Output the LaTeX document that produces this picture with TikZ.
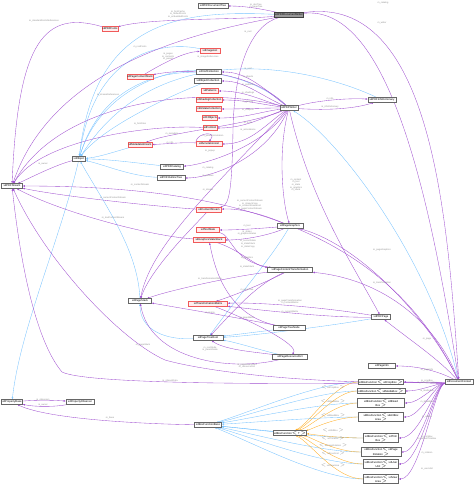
\documentclass[tikz,border=0pt]{standalone}
\usepackage{fontspec}
\setmainfont{Liberation Sans}
\usetikzlibrary{arrows.meta,backgrounds}
\definecolor{usec}{RGB}{160,80,208}
\definecolor{inhc}{RGB}{120,195,255}
\definecolor{tplc}{RGB}{255,175,40}
\definecolor{edgec}{RGB}{102,102,102}
\definecolor{rfill}{RGB}{255,238,238}
\definecolor{rdraw}{RGB}{240,90,90}
\definecolor{lblc}{RGB}{140,140,140}
\tikzset{
 nb/.style={draw=edgec, fill=white, line width=0.3pt, inner xsep=0.5pt, inner ysep=0.4pt, minimum height=4.8pt, font=\fontsize{2.7}{3.0}\selectfont, align=center},
 rb/.style={nb, draw=rdraw, fill=rfill},
 gb/.style={nb, fill={rgb,255:red,153;green,153;blue,153}, draw=black!75},
 lb/.style={font=\fontsize{2.3}{2.6}\selectfont, text=lblc, align=center, inner sep=0pt},
 ue/.style={draw=usec, line width=0.35pt, -{Latex[length=2.2pt,width=1.8pt]}},
 ie/.style={draw=inhc, line width=0.35pt, -{Latex[open,length=2.2pt,width=1.8pt]}},
 te/.style={draw=tplc, line width=0.35pt, -{Latex[open,length=2.2pt,width=1.8pt]}},
}
\begin{document}
\begin{tikzpicture}[x=1pt,y=-1pt]
\useasboundingbox (0,0) rectangle (474,493);
% ---------- nodes ----------
\node[nb, minimum width=30pt] (T) at (213,6) {xdPDFDocumentTree};
\node[gb, minimum width=28pt] (G) at (289,15) {xdPDFDocumentWriter};
\node[rb, minimum width=16pt] (R1) at (110,29) {xdPDFFonts};
\node[rb, minimum width=20pt] (A1) at (210,51) {xdImageList};
\node[rb, minimum width=24pt] (A2) at (140,77) {xdPageContentStack};
\node[nb, minimum width=25pt] (N1) at (209,72) {xdXrefCollection};
\node[nb, minimum width=27pt] (N2) at (208,81) {xdObjectCollection};
\node[rb, minimum width=17pt] (A3) at (210,91) {xdPatterns};
\node[rb, minimum width=25pt] (A4) at (209,100) {xdShadingCollection};
\node[rb, minimum width=25pt] (A5) at (209,109) {xdGStateCollection};
\node[rb, minimum width=14pt] (A6) at (210,118) {xdXObjects};
\node[nb, minimum width=18pt] (H) at (289,108) {xdPDFWriter};
\node[nb, minimum width=28pt] (N3) at (382,100) {xdPDFInfoDictionary};
\node[rb, minimum width=14pt] (A7) at (210,128) {xdFontList};
\node[rb, minimum width=23pt] (A8) at (140,145) {xdMetadataStream};
\node[rb, minimum width=26pt] (A9) at (209,144) {xdAnnotationList};
\node[nb, minimum width=13pt] (F) at (79,159) {xdObject};
\node[nb, minimum width=23pt] (W1) at (172,167) {xdPDFCatalog};
\node[nb, minimum width=28pt] (W2) at (171,178) {xdPDFOutlineTree};
\node[nb, minimum width=21pt] (L) at (12,186) {xdPDFStream};
\node[rb, minimum width=25pt] (B1) at (209,210) {xdContentStream};
\node[nb, minimum width=26pt] (W3) at (290,226) {xdPageGraphics};
\node[rb, minimum width=23pt] (B2) at (208,230) {xdTextState};
\node[rb, minimum width=32pt] (B3) at (209,240) {xdGraphicsStateStack};
\node[nb, minimum width=45pt] (W4) at (290,270) {xdPageContentTransformation};
\node[nb, minimum width=23pt] (P) at (140,301) {xdPageStack};
\node[rb, minimum width=39pt] (B4) at (208,304) {xdTransformationMatrix};
\node[nb, minimum width=19pt] (W5) at (381,317) {xdPDFPage};
\node[nb, minimum width=32pt] (W6) at (289,328) {xdPageTreeNode};
\node[nb, minimum width=30pt] (W7) at (208,338) {xdPageTreeRoot};
\node[nb, minimum width=35pt] (W8) at (290,357) {xdPageResourceDict};
\node[nb, minimum width=27pt] (W9) at (382,366) {xdPageInfo};
\node[nb, minimum width=28pt] (RN) at (459,382) {xdDocumentContext};
\node[nb, minimum width=45pt] (C1) at (381,382) {xdBoxFunction$<$ xdCropBox $>$};
\node[nb, minimum width=48pt] (C2) at (381,391) {xdBoxFunction$<$ xdMediaBox $>$};
\node[nb, minimum width=47pt] (C3) at (381,403) {xdBoxFunction$<$ xdBleed\\Box $>$};
\node[nb, minimum width=45pt] (C4) at (381,417) {xdBoxFunction$<$ xdArtBox\\Area $>$};
\node[nb, minimum width=35pt] (C5) at (381,438) {xdBoxFunction$<$ xdTrim\\Box $>$};
\node[nb, minimum width=40pt] (C6) at (381,452) {xdBoxFunction$<$ xdPage\\Rotation $>$};
\node[nb, minimum width=35pt] (C7) at (381,464) {xdBoxFunction$<$ xdUser\\Unit $>$};
\node[nb, minimum width=35pt] (C8) at (381,479) {xdBoxFunction$<$ xdView\\Area $>$};
\node[nb, minimum width=27pt] (D1) at (208,425) {xdBoxFunctionBase};
\node[nb, minimum width=30pt] (D2) at (290,433) {xdBoxFunction$<$ T $>$};
\node[nb, minimum width=21pt] (E1) at (12,402) {xdPropertyBase};
\node[nb, minimum width=28pt] (E2) at (80,402) {xdPropertyObserver};
% ---------- edges ----------
\begin{scope}[on background layer]
% inheritance
\draw[ie] (G) .. controls (180,10) and (95,20) .. (F);
\draw[ie] (A1) .. controls (170,42) and (95,45) .. (F);
\draw[ie] (H) .. controls (230,55) and (110,55) .. (F);
\draw[ie] (N1) .. controls (170,68) and (100,90) .. (F);
\draw[ie] (N2) .. controls (160,100) and (100,130) .. (F);
\draw[ie] (N3) .. controls (320,70) and (160,30) .. (F);
\draw[ie] (A8) .. controls (120,150) and (100,157) .. (F);
\draw[ie] (W1) .. controls (130,162) and (105,159) .. (F);
\draw[ie] (W2) .. controls (130,176) and (105,165) .. (F);
\draw[ie] (P) .. controls (138,250) and (105,205) .. (F);
\draw[ie] (RN) .. controls (430,260) and (340,140) .. (H);
\draw[ie] (F) .. controls (60,240) and (20,330) .. (E1);
\draw[ie] (W5) .. controls (330,326) and (250,336) .. (W7);
\draw[ie] (W6) -- (W7);
\draw[ie] (W8) .. controls (260,350) and (235,342) .. (W7);
\draw[ie] (W3) .. controls (270,260) and (235,300) .. (W7);
\draw[ie] (W7) .. controls (165,340) and (140,330) .. (P);
\draw[ie] (D2) -- (D1);
\foreach \c/\y in {C1/382,C2/391,C3/403,C4/417,C5/438,C6/452,C7/464,C8/479}{
  \draw[ie] (\c) .. controls (320,\y) and (250,425+0.3*\y-127.5) .. (D1);
  \draw[te] (\c) .. controls (335,\y) and (310,433+0.2*\y-86.6) .. (D2);
}
% usage
\draw[ue] (G) .. controls (262,9) and (245,6) .. (T);
\draw[ue] (G) .. controls (235,20) and (150,18) .. (R1);
\draw[ue] (R1) .. controls (45,10) and (18,40) .. (L);
\draw[ue] (G) .. controls (210,30) and (55,60) .. (L);
\draw[ue] (G) .. controls (435,-8) and (448,230) .. (RN);
\draw[ue] (G) .. controls (385,4) and (428,180) .. (RN);
\draw[ue] (G) .. controls (250,25) and (234,70) .. (233,130) .. controls (232,185) and (230,205) .. (B1);
\draw[ue] (A2) .. controls (165,62) and (185,52) .. (A1);
\draw[ue] (H) .. controls (255,75) and (200,66) .. (A2);
\draw[ue] (H) .. controls (260,85) and (245,72) .. (N1);
\draw[ue] (H) .. controls (260,95) and (245,81) .. (N2);
\draw[ue] (H) .. controls (260,100) and (245,91) .. (A3);
\draw[ue] (H) .. controls (260,104) and (245,100) .. (A4);
\draw[ue] (H) .. controls (260,108) and (245,109) .. (A5);
\draw[ue] (H) .. controls (260,112) and (245,118) .. (A6);
\draw[ue] (H) .. controls (262,118) and (245,128) .. (A7);
\draw[ue] (H) .. controls (265,125) and (250,144) .. (A9);
\draw[ue] (H) .. controls (320,100) and (350,98) .. (N3);
\draw[ue] (H) .. controls (320,110) and (350,110) .. (N3);
\draw[ue] (A9) .. controls (185,142) and (165,144) .. (A8);
\draw[ue] (H) .. controls (250,125) and (170,132) .. (A8);
\draw[ue] (A9.north west) .. controls (198,132) and (218,131) .. (A9.north);
\draw[ue] (H) .. controls (260,150) and (200,165) .. (W1);
\draw[ue] (H) .. controls (265,160) and (210,178) .. (W2);
\draw[ue] (H) .. controls (200,85) and (60,100) .. (L);
\draw[ue] (A7) .. controls (150,124) and (40,140) .. (L);
\draw[ue] (F) .. controls (55,165) and (30,178) .. (L);
\draw[ue] (RN) .. controls (380,215) and (200,186) .. (L);
\draw[ue] (B1) .. controls (150,206) and (60,196) .. (L);
\draw[ue] (B3) .. controls (150,236) and (60,212) .. (L);
\draw[ue] (RN) .. controls (330,384) and (90,386) .. (62,372) .. controls (35,340) and (20,260) .. (L);
\draw[ue] (RN) .. controls (300,385) and (200,370) .. (165,360) .. controls (120,340) and (45,260) .. (L);
\draw[ue] (W3) .. controls (265,215) and (240,208) .. (B1);
\draw[ue] (W3) .. controls (265,228) and (240,230) .. (B2);
\draw[ue] (W3) .. controls (270,235) and (245,240) .. (B3);
\draw[ue] (H) .. controls (278,150) and (282,200) .. (W3);
\draw[ue] (RN) .. controls (430,320) and (360,245) .. (W3);
\draw[ue] (RN) .. controls (440,330) and (390,280) .. (W4);
\draw[ue] (RN) .. controls (440,360) and (410,340) .. (W5);
\draw[ue] (H) .. controls (310,200) and (350,260) .. (W5);
\draw[ue] (W5) .. controls (330,308) and (260,302) .. (B4);
\draw[ue] (W5) .. controls (330,318) and (260,310) .. (B4);
\draw[ue] (B2) .. controls (232,235) and (232,262) .. (W4);
\draw[ue] (B3) .. controls (240,250) and (255,266) .. (W4);
\draw[ue] (W4) .. controls (240,275) and (170,290) .. (P);
\draw[ue] (W4) .. controls (260,285) and (235,295) .. (B4);
\draw[ue] (W6) .. controls (225,315) and (214,265) .. (B3);
\draw[ue] (W6) .. controls (240,318) and (180,308) .. (P);
\draw[ue] (W4) .. controls (255,285) and (235,310) .. (W7);
\draw[ue] (B4) .. controls (250,320) and (300,345) .. (W8);
\draw[ue] (H) .. controls (200,200) and (150,250) .. (P);
\draw[ue] (B1) .. controls (190,230) and (150,270) .. (P);
\draw[ue] (W8) .. controls (230,372) and (150,360) .. (P);
\draw[ue] (W8) .. controls (255,352) and (225,350) .. (W7);
\draw[ue] (RN) .. controls (440,372) and (420,366) .. (W9);
\foreach \c/\y in {C1/382,C2/391,C3/403,C4/417,C5/438,C6/452,C7/464,C8/479}{
  \draw[ue] (RN) .. controls (435,384) and (420,\y) .. (\c);
}
\draw[ue] (D1) .. controls (150,424) and (50,420) .. (E1);
\draw[ue] (E1) .. controls (35,400) and (50,400) .. (E2);
\draw[ue] (E2) .. controls (55,407) and (35,407) .. (E1);
\end{scope}
% ---------- labels ----------
\node[lb] (l1) at (256,6) {m\_docTree\\m\_pageTree};
\node[lb] (l2) at (178,14) {m\_fontCache\\m\_defaultFonts\\m\_embeddedFonts};
\node[lb] (l3) at (44,21) {m\_standardFontsReferences};
\node[lb] (l4) at (140,47) {m\_rootFonts};
\node[lb] (l5) at (383,3) {m\_catalog};
\node[lb] (l6) at (382,23) {m\_writer};
\node[lb] (l7) at (248,32) {m\_root};
\node[lb] (l8) at (168,57) {m\_pages\\m\_contents\\m\_parent};
\node[lb] (l9) at (208,57) {m\_imageReferences};
\node[lb] (l10) at (248,69) {m\_xref};
\node[lb] (l11) at (248,77) {m\_objects};
\node[lb] (l12) at (248,85) {m\_patterns};
\node[lb] (l13) at (248,93) {m\_shadings};
\node[lb] (l14) at (248,102) {m\_gstates};
\node[lb] (l15) at (248,110) {m\_xobjects};
\node[lb] (l16) at (248,123) {m\_fonts};
\node[lb] (l17) at (248,130) {m\_annotations};
\node[lb] (l70) at (330,99) {m\_info};
\node[lb] (l71) at (330,107) {m\_infoDictionary};
\node[lb] (l18) at (108,95) {m\_streamReferences};
\node[lb] (l19) at (140,124) {m\_fontFiles};
\node[lb] (l20) at (172,134) {m\_metadata};
\node[lb] (l21) at (170,143) {m\_info};
\node[lb] (l22) at (213,136) {m\_parentAnnotation};
\node[lb] (l23) at (210,151) {m\_popup};
\node[lb] (l24) at (208,168) {m\_catalog};
\node[lb] (l25) at (208,176) {m\_outlines};
\node[lb] (l26) at (43,164) {m\_owner};
\node[lb] (l27) at (140,185) {m\_contentStream};
\node[lb] (l28) at (208,190) {m\_stream};
\node[lb] (l29) at (113,198) {m\_currentContentStream};
\node[lb] (l30) at (113,218) {m\_textContentStream};
\node[lb] (l31) at (296,185) {m\_content\\m\_text\\m\_state\\m\_graphics\\m\_stack};
\node[lb] (l32) at (250,205) {m\_currentContentStream\\m\_streamCopy\\m\_contentStreamList\\m\_pageContentStream};
\node[lb] (l33) at (247,226) {m\_text};
\node[lb] (l34) at (247,233) {m\_states\\m\_graphicsStates};
\node[lb] (l35) at (382,250) {m\_pageGraphics};
\node[lb] (l36) at (382,283) {m\_transformation};
\node[lb] (l37) at (427,339) {m\_page};
\node[lb] (l38) at (248,244) {m\_currentState\\m\_stateStack\\m\_stateCopy};
\node[lb] (l39) at (247,258) {m\_graphics};
\node[lb] (l40) at (247,267) {m\_stateStack};
\node[lb] (l41) at (210,279) {m\_transformationStack};
\node[lb] (l42) at (247,290) {m\_pageTree};
\node[lb] (l43) at (290,302) {m\_pageTransformation\\m\_contentMatrix};
\node[lb] (l44) at (290,312) {m\_currentMatrix};
\node[lb] (l45) at (210,313) {m\_matrix};
\node[lb] (l46) at (247,318) {m\_pageMatrix};
\node[lb] (l47) at (143,345) {m\_pageStack};
\node[lb] (l48) at (210,349) {m\_rootNode\\m\_parentNode};
\node[lb] (l49) at (247,366) {m\_pageResources\\m\_resourceDict};
\node[lb] (l50) at (170,381) {m\_streamData};
\node[lb] (l51) at (427,370) {m\_pageInfo};
\node[lb] (l52) at (427,382) {m\_cropBox\\m\_defaultCropBox};
\node[lb] (l53) at (427,391) {m\_mediaBox};
\node[lb] (l54) at (427,402) {m\_bleedBox};
\node[lb] (l55) at (427,417) {m\_artBox};
\node[lb] (l56) at (427,438) {m\_trimBox\\m\_defaultTrimBox};
\node[lb] (l57) at (427,453) {m\_rotation};
\node[lb] (l58) at (427,469) {m\_userUnit};
\node[lb] (l59) at (333,387) {$<$ xdCropBox $>$};
\node[lb] (l60) at (333,401) {$<$ xdMediaBox $>$};
\node[lb] (l61) at (333,415) {$<$ xdBleedBox $>$};
\node[lb] (l62) at (333,430) {$<$ xdArtBox $>$};
\node[lb] (l63) at (333,438) {$<$ xdTrimBox $>$};
\node[lb] (l64) at (333,445) {$<$ xdPageRotation $>$};
\node[lb] (l65) at (333,453) {$<$ xdUserUnit $>$};
\node[lb] (l66) at (333,465) {$<$ xdViewArea $>$};
\node[lb] (l67) at (110,418) {m\_base};
\node[lb] (l68) at (43,400) {m\_observers};
\node[lb] (l69) at (43,405) {m\_owner};
\end{tikzpicture}
\end{document}
